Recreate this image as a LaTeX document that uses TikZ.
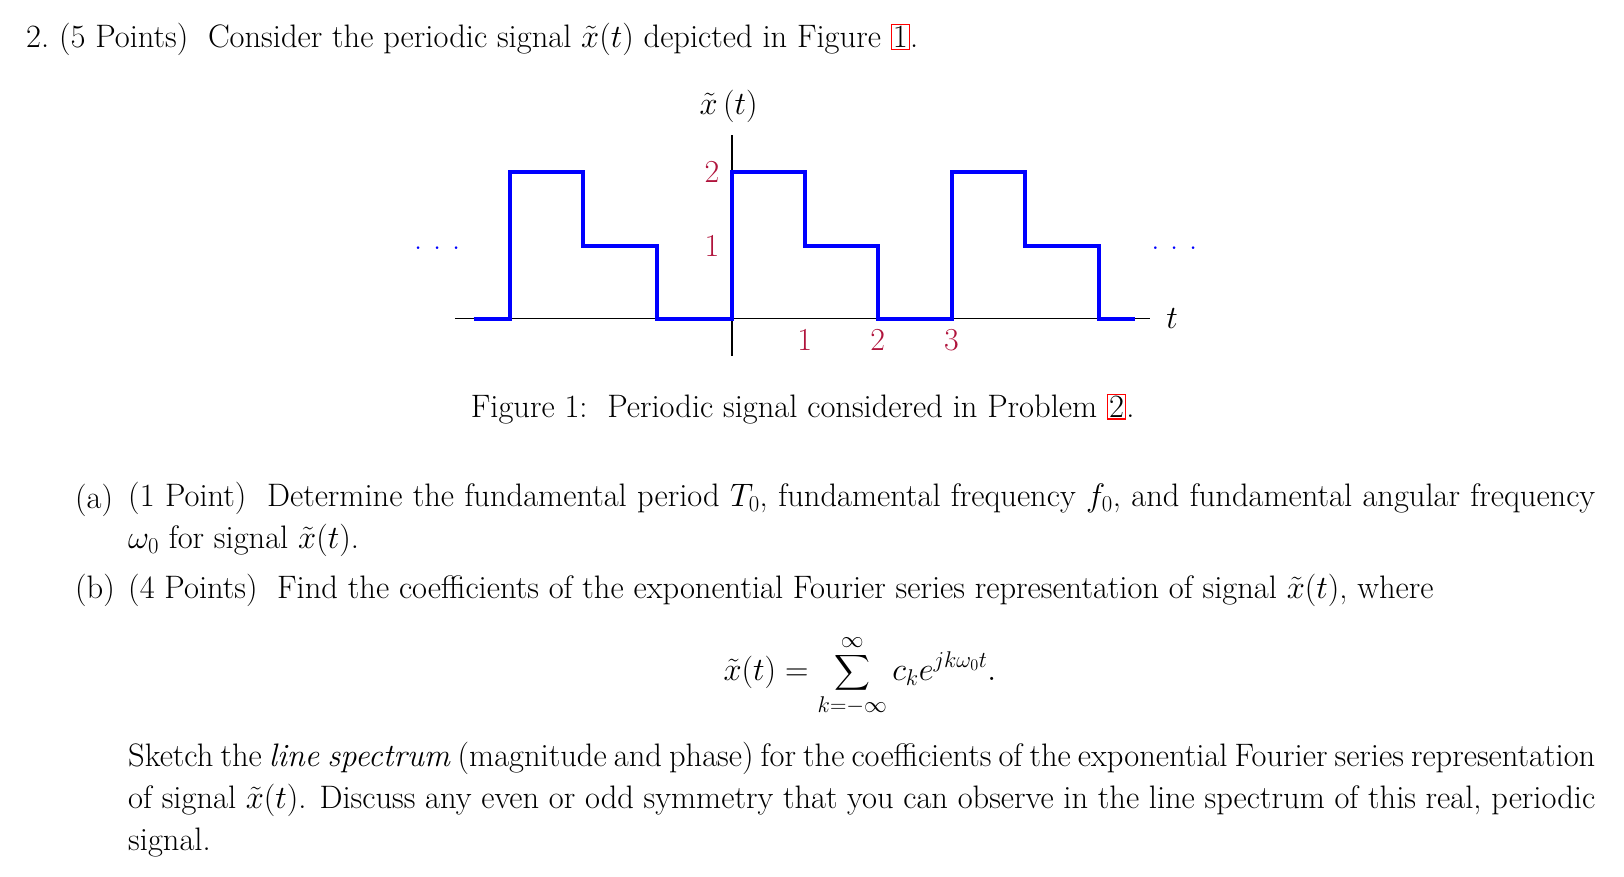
\documentclass[tikz,border=0pt]{standalone}
\usepackage{fix-cm}
\usepackage{amsmath}
\definecolor{tick}{RGB}{176,20,60}
\newcommand{\rbx}[1]{{\setlength\fboxsep{1pt}\setlength\fboxrule{1.2pt}\fcolorbox{red}{white}{#1}}}
\begin{document}
\begin{tikzpicture}[x=1.041pt,y=-1.041pt,
  txt/.style={inner sep=0pt,font=\fontsize{32.5}{41.6}\selectfont},
  par/.style={txt,text width=1467pt,align=justify,anchor=north west},
  sig/.style={blue,line width=4pt},
  ax/.style={line width=1.5pt},
  tk/.style={inner sep=0pt,text=tick,font=\fontsize{32}{35}\selectfont}]
\useasboundingbox (0,0) rectangle (1560,841.5);
\node[txt,anchor=base west] (l1) at (25,46) {2.\ (5 Points)\ \ Consider the periodic signal $\tilde{x}(t)$ depicted in Figure \rbx{1}.};
% figure
\draw[ax] (437,306) -- (1105,306);
\draw[ax] (703,130) -- (703,342);
\node[txt,anchor=base] (tl) at (1126,316) {$t$};
\node[txt,anchor=base] (xl) at (700,110) {$\tilde{x}\,(t)$};
\draw[sig] (455,306) -- (490,306) -- (490,165) -- (560,165) -- (560,236) -- (631,236) -- (631,306)
  -- (703,306) -- (703,165) -- (773,165) -- (773,236) -- (843,236) -- (843,306)
  -- (914,306) -- (914,165) -- (985,165) -- (985,236) -- (1056,236) -- (1056,306) -- (1090,306);
\node[tk] (y2) at (684,165) {2};
\node[tk] (y1) at (684,236) {1};
\node[tk] (x1) at (773,327) {1};
\node[tk] (x2) at (843,327) {2};
\node[tk] (x3) at (914,327) {3};
\node[txt,text=blue,anchor=base] (dl) at (420,240) {.\,\,.\,\,.};
\node[txt,text=blue,anchor=base] (dr) at (1128,240) {.\,\,.\,\,.};
\node[txt,anchor=base] (cap) at (771,401) {Figure 1:\ \ Periodic signal considered in Problem \rbx{2}.};
% items
\node[txt,anchor=base west] (la) at (72,488) {(a)};
\node[par] (pa) at (123,463) {(1 Point)\ \ Determine the fundamental period $T_0$, fundamental frequency $f_0$, and fundamental angular frequency $\omega_0$ for signal $\tilde{x}(t)$.};
\node[txt,anchor=base west] (lb) at (72,575) {(b)};
\node[txt,anchor=base west] (pb) at (123,575) {(4 Points)\ \ Find the coefficients of the exponential Fourier series representation of signal $\tilde{x}(t)$, where};
\node[txt,anchor=base] (eq) at (826,654) {$\displaystyle \tilde{x}(t)=\sum_{k=-\infty}^{\infty}c_k e^{jk\omega_0 t}.$};
\node[par] (pc) at (123,713) {Sketch the \emph{line spectrum} (magnitude and phase) for the coefficients of the exponential Fourier series representation of signal $\tilde{x}(t)$. Discuss any even or odd symmetry that you can observe in the line spectrum of this real, periodic signal.};
\end{tikzpicture}
\end{document}
